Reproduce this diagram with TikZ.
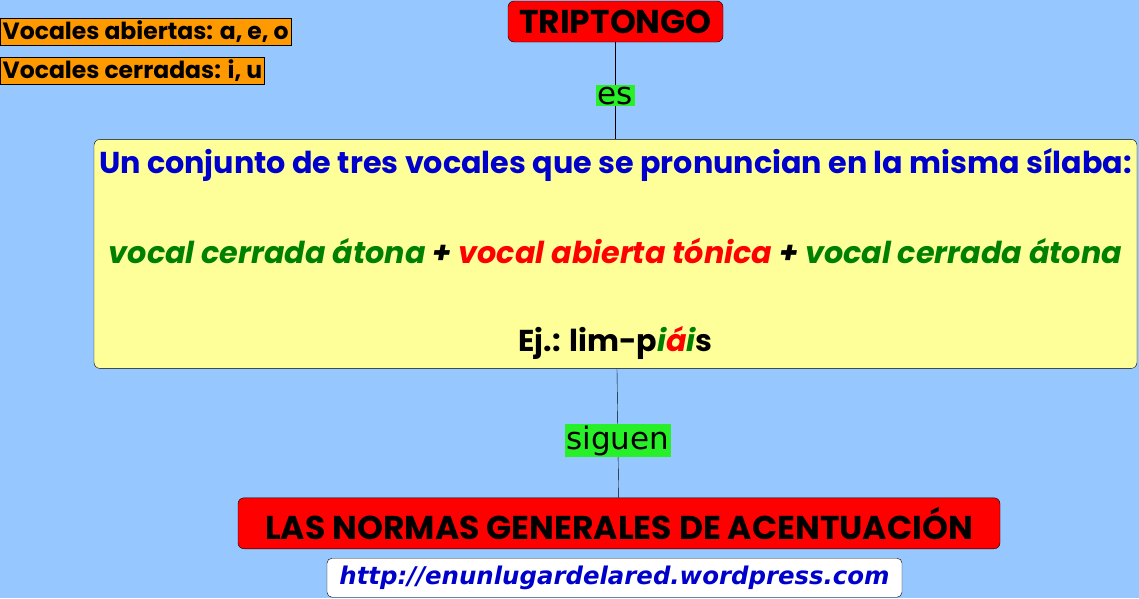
\documentclass[tikz,border=0pt]{standalone}
\usepackage{fontspec}
\setmainfont{Poppins}
\newfontfamily\linkfont{DejaVu Sans}
\usetikzlibrary{positioning}

\definecolor{skyback}{RGB}{150,200,255}
\definecolor{boxred}{RGB}{255,0,0}
\definecolor{boxorange}{RGB}{255,153,0}
\definecolor{boxyellow}{RGB}{255,255,153}
\definecolor{linkgreen}{RGB}{40,240,40}
\definecolor{textblue}{RGB}{0,0,204}
\definecolor{textgreen}{RGB}{0,128,0}
\definecolor{textred}{RGB}{255,0,0}

\begin{document}
\begin{tikzpicture}[x=1pt, y=-1pt,
    titlebox/.style={rectangle, rounded corners=6pt, draw, fill=boxred, inner sep=0pt,
        font=\fontsize{33}{36}\selectfont\bfseries},
    notebox/.style={rectangle, draw, fill=boxorange, inner sep=2.5pt, anchor=north west,
        font=\fontsize{23.5}{26}\selectfont\bfseries},
    defbox/.style={rectangle, rounded corners=6pt, draw, fill=boxyellow, inner sep=0pt,
        minimum width=1043pt, minimum height=229pt, align=center,
        font=\fontsize{30.2}{34}\selectfont\bfseries},
    urlbox/.style={rectangle, rounded corners=5pt, draw, fill=white, inner sep=0pt,
        minimum width=575pt, minimum height=39pt,
        font=\linkfont\fontsize{24.4}{28}\selectfont\bfseries\itshape, text=textblue},
    linklabel/.style={fill=linkgreen, inner sep=1.5pt, font=\linkfont\fontsize{31}{33}\selectfont}
]
\useasboundingbox[fill=skyback] (0,0) rectangle (1139,598);

% Notes (top left)
\node[notebox] (abiertas) at (0,18) {Vocales abiertas: a, e, o};
\node[notebox] (cerradas) at (0,57) {Vocales cerradas: i, u};

% Concepts
\node[titlebox, minimum width=215pt, minimum height=41pt] (tript) at (615.5,21.5) {TRIPTONGO};
\node[defbox, below=97pt of tript] (def) {%
    \textcolor{textblue}{Un conjunto de tres vocales que se pronuncian en la misma sílaba:}\\[56pt]
    \itshape\textcolor{textgreen}{vocal cerrada átona} + \textcolor{textred}{vocal abierta tónica}
    + \textcolor{textgreen}{vocal cerrada átona}\\[54pt]
    Ej.: lim-p\textcolor{textgreen}{\itshape i}\textcolor{textred}{\itshape á}\textcolor{textgreen}{\itshape i}s};
\node[titlebox, minimum width=762pt, minimum height=51pt, below=129pt of def, xshift=3.5pt] (normas)
    {LAS NORMAS GENERALES DE ACENTUACIÓN};
\node[urlbox, below=9pt of normas, xshift=-4.5pt] (url) {http://enunlugardelared.wordpress.com};

% Links
\draw (tript) -- node[linklabel, pos=0.55] {es} (def);
\draw (def) -- node[linklabel, pos=0.56] {siguen} (normas);

\end{tikzpicture}
\end{document}
